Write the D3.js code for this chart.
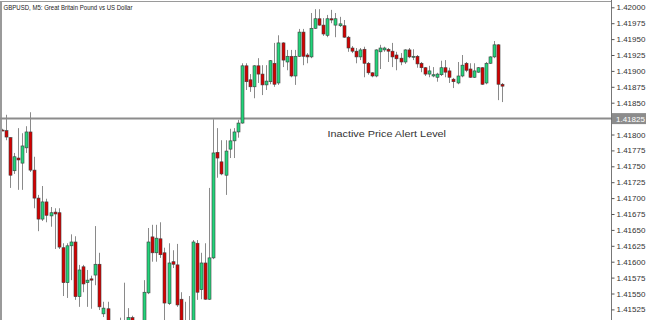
<!DOCTYPE html>
<html><head><meta charset="utf-8">
<script src="https://cdn.jsdelivr.net/npm/d3@7"></script>
<style>html,body{margin:0;padding:0;background:#fff;overflow:hidden}svg{display:block}</style>
</head><body>
<script>
// ---- data (GBPUSD M5 candles) ----
const title = "GBPUSD, M5:  Great Britain Pound vs US Dollar";
const alertLevel = 1.41825;
const alertText = "Inactive Price Alert Level";
const priceTicks = [1.42000,1.41975,1.41950,1.41925,1.41900,1.41875,1.41850,1.41825,1.41800,1.41775,1.41750,1.41725,1.41700,1.41675,1.41650,1.41625,1.41600,1.41575,1.41550,1.41525];
// prices in 1e-5 units above 1.41000
const openP  = [807,806,795,743,763,755,779,804,744,700,667,694,672,678,677,622,567,625,631,545,592,567,573,579,596,518,526,500,490,497,492,502,512,500,495,493,551,639,614,636,614,534,600,595,541,500,495,493,629,556,598,541,606,772,757,736,777,790,804,818,908,886,875,908,895,878,883,912,881,944,914,923,892,923,961,925,922,967,982,972,956,982,972,971,971,953,936,931,922,934,912,897,892,930,933,934,931,925,920,914,933,922,923,912,905,895,892,890,894,905,900,887,881,892,912,903,890,898,905,881,912,922,941,879];
const highP  = [809,831,796,771,810,802,813,835,765,705,719,699,686,684,684,629,629,643,640,595,595,587,578,656,614,537,537,504,502,512,567,527,515,505,505,571,653,658,658,662,622,629,618,628,552,537,546,634,634,614,629,716,824,810,791,791,809,810,823,912,912,895,909,920,909,909,917,944,956,945,933,933,933,966,966,928,991,997,997,983,988,996,991,985,980,955,939,936,936,938,914,898,934,941,938,936,944,930,928,934,936,934,925,914,906,908,906,897,916,917,905,889,914,925,914,912,912,906,906,914,923,947,942,881];
const lowP   = [806,791,716,738,713,713,771,741,684,648,664,662,655,620,620,546,543,571,540,529,552,529,526,563,524,513,493,480,478,480,485,493,489,485,480,489,549,600,600,606,508,532,590,529,493,485,480,485,540,541,540,540,604,732,736,705,763,763,795,817,870,867,857,881,862,870,879,875,878,906,901,890,878,922,909,912,920,966,971,955,953,975,953,969,952,930,928,912,917,890,894,890,890,903,930,914,906,901,909,911,920,917,905,898,892,890,890,883,892,890,881,873,879,890,898,889,889,897,878,879,911,920,854,851];
const closeP = [806,796,736,765,760,782,804,744,700,667,694,673,677,675,623,567,625,631,545,587,565,571,571,596,529,527,500,490,497,492,500,512,500,495,493,552,631,614,637,611,535,598,596,532,500,495,493,631,552,598,541,606,771,763,738,774,790,804,818,908,883,875,908,895,878,884,916,879,944,917,923,892,923,961,923,922,967,982,972,958,982,980,982,974,953,936,931,922,933,912,897,892,933,936,936,931,922,919,914,933,922,923,911,905,895,900,894,895,905,898,890,883,892,909,901,890,900,905,879,912,922,941,879,876];

const toPrice = v => 1.41 + v / 100000;
const candles = openP.map((o, i) => ({
  i, open: toPrice(o), high: toPrice(highP[i]), low: toPrice(lowP[i]), close: toPrice(closeP[i])
}));

// ---- layout ----
const W = 648, H = 320;
const axisX = 611;
const svg = d3.select("body").append("svg").attr("width", W).attr("height", H);

const y = d3.scaleLinear().domain([1.42000, 1.41525]).range([7.3, 309.4]);
const x = d3.scaleLinear().domain([0, 123]).range([1.7, 502.3]);

svg.append("defs").append("clipPath").attr("id", "plot")
  .append("rect").attr("x", 2).attr("y", 2).attr("width", axisX - 2).attr("height", H);

// frame
svg.append("line").attr("x1", 0.5).attr("x2", axisX).attr("y1", 1.5).attr("y2", 1.5)
  .attr("stroke", "#9a9a9a").attr("stroke-width", 1);
svg.append("line").attr("x1", 1).attr("x2", 1).attr("y1", 1).attr("y2", H)
  .attr("stroke", "#9a9a9a").attr("stroke-width", 2);

// title
svg.append("text").attr("x", 3.5).attr("y", 9.5).text(title)
  .attr("font-family", "Liberation Sans, Arial, sans-serif").attr("font-size", 7.4).attr("fill", "#222")
  .attr("textLength", 129).attr("lengthAdjust", "spacingAndGlyphs");

// alert line
svg.append("line").attr("x1", 0).attr("x2", axisX).attr("y1", y(alertLevel)).attr("y2", y(alertLevel))
  .attr("stroke", "#8c8c8c").attr("stroke-width", 2);
svg.append("text").attr("x", 327.5).attr("y", y(alertLevel) + 18.5).text(alertText)
  .attr("font-family", "Liberation Sans, Arial, sans-serif").attr("font-size", 9.4).attr("fill", "#333")
  .attr("textLength", 118.5).attr("lengthAdjust", "spacingAndGlyphs");

// candles
const g = svg.append("g").attr("clip-path", "url(#plot)");
const bw = 3;
g.selectAll("line.wick").data(candles).join("line").attr("class", "wick")
  .attr("x1", d => Math.round(x(d.i)) + 0.5).attr("x2", d => Math.round(x(d.i)) + 0.5)
  .attr("y1", d => y(d.high)).attr("y2", d => y(d.low))
  .attr("stroke", "#8a8a8a").attr("stroke-width", 1);
g.selectAll("rect.body").data(candles).join("rect").attr("class", "body")
  .attr("x", d => Math.round(x(d.i)) - 1)
  .attr("width", bw)
  .attr("y", d => y(Math.max(d.open, d.close)))
  .attr("height", d => Math.max(1, Math.abs(y(d.open) - y(d.close))))
  .attr("fill", d => d.close > d.open ? "#22d47a" : (d.close < d.open ? "#d40000" : "#444"))
  .attr("stroke", "#3c3c3c").attr("stroke-width", 0.6);

// price axis
svg.append("line").attr("x1", axisX + 0.5).attr("x2", axisX + 0.5).attr("y1", 0).attr("y2", H)
  .attr("stroke", "#777").attr("stroke-width", 1);
const axis = d3.axisRight(y).tickValues(priceTicks).tickSize(3).tickPadding(2)
  .tickFormat(d3.format(".5f"));
const ag = svg.append("g").attr("transform", `translate(${axisX + 0.5},0)`).call(axis);
ag.select(".domain").remove();
ag.selectAll("line").attr("stroke", "#555");
ag.selectAll("text").attr("font-family", "Liberation Sans, Arial, sans-serif")
  .attr("font-size", 8).attr("fill", "#333");

// alert price label box
const ya = y(alertLevel);
svg.append("rect").attr("x", axisX + 1).attr("y", ya - 5.5).attr("width", W - axisX - 3).attr("height", 11)
  .attr("fill", "#8c8c8c");
svg.append("text").attr("x", axisX + 5).attr("y", ya + 3).text(d3.format(".5f")(alertLevel))
  .attr("font-family", "Liberation Sans, Arial, sans-serif").attr("font-size", 8).attr("fill", "#fff");
</script>
</body></html>
